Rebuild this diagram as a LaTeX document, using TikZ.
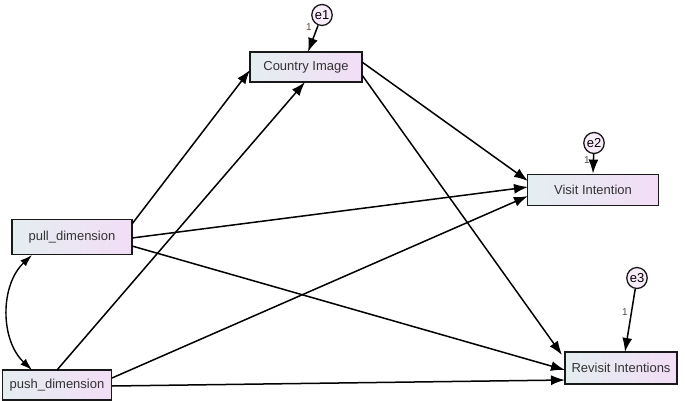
\documentclass[tikz,border=0pt]{standalone}
\usepackage{fontspec}
\setmainfont{Liberation Sans}
\usetikzlibrary{arrows.meta,calc,shapes.geometric}
\definecolor{boxL}{HTML}{E4EEF0}
\definecolor{boxR}{HTML}{F3DDF6}
\definecolor{onecol}{HTML}{5A4A3A}
\tikzset{
  var/.style={draw=black!90, line width=1.8pt, left color=boxL, right color=boxR,
    minimum height=30pt, inner sep=0pt, font=\fontsize{13}{15}\selectfont, text=black!80},
  err/.style={ellipse, draw=black!90, line width=1.3pt, fill=boxR!60!white, minimum width=18pt,
    minimum height=21pt, inner sep=0pt, font=\fontsize{13}{15}\selectfont},
  path/.style={line width=1.5pt, -{Latex[length=14pt,width=10pt]}},
  one/.style={font=\fontsize{10}{11}\selectfont, text=onecol, inner sep=0.5pt}
}
\begin{document}
\begin{tikzpicture}[x=1pt,y=-1pt]
\useasboundingbox (0,0) rectangle (685,401);
\node[var, minimum width=112pt] (ci) at (306,67) {Country Image};
\node[var, minimum width=131pt, minimum height=31pt] (vi) at (593,190) {Visit Intention};
\node[var, minimum width=112pt, minimum height=32pt] (ri) at (621,368) {Revisit Intentions};
\node[var, minimum width=120pt, minimum height=35pt] (pull) at (72,237) {pull\_dimension};
\node[var, minimum width=109pt] (push) at (57,385) {push\_dimension};
\node[err] (e1) at (322,15) {e1};
\node[err] (e2) at (594,143) {e2};
\node[err] (e3) at (637,278) {e3};
\node[one] (o1) at (309,27) {1};
\node[one] (o2) at (587,160) {1};
\node[one] (o3) at (625,312) {1};
\coordinate (ciTop) at (308,52);
\coordinate (riTop) at (625,352);
\draw[path] (e1) -- (ciTop);
\draw[path] (e2) -- (vi.north);
\draw[path] (e3) -- (riTop);
% structural paths
\coordinate (pullA) at (132,224);
\coordinate (pullB) at (132,238);
\coordinate (pullC) at (132,246);
\coordinate (pushA) at (57,370);
\coordinate (pushB) at (112,378);
\coordinate (pushC) at (112,386);
\coordinate (ciB) at (362,62);
\coordinate (ciC) at (362,75);
\coordinate (ciIn1) at (250,70);
\coordinate (ciIn2) at (305,82);
\coordinate (viIn1) at (528,181);
\coordinate (viIn2) at (528,187);
\coordinate (viIn3) at (528,196);
\coordinate (riIn1) at (562,355);
\coordinate (riIn2) at (565,370);
\coordinate (riIn3) at (565,380);
\draw[path] (pullA) -- (ciIn1);
\draw[path] (pushA) -- (ciIn2);
\draw[path] (ciB) -- (viIn1);
\draw[path] (pullB) -- (viIn2);
\draw[path] (pushB) -- (viIn3);
\draw[path] (ciC) -- (riIn1);
\draw[path] (pullC) -- (riIn2);
\draw[path] (pushC) -- (riIn3);
% covariance
\coordinate (covA) at (32,255);
\coordinate (covB) at (32,370);
\draw[line width=1.4pt, {Latex[length=12pt,width=8pt]}-{Latex[length=12pt,width=8pt]}]
  (covA) .. controls (0,285) and (0,340) .. (covB);
\end{tikzpicture}
\end{document}
